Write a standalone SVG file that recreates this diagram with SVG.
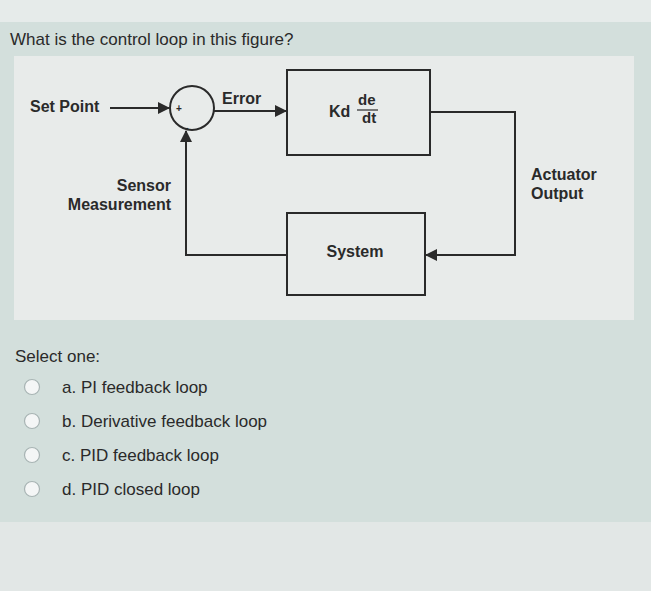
<svg xmlns="http://www.w3.org/2000/svg" width="651" height="591" viewBox="0 0 651 591">
<style>
.t{font-family:"Liberation Sans",Arial,sans-serif;fill:#2a2a2a}
.b{font-weight:bold;font-size:16px}
.ln{fill:none;stroke:#2a2a2a;stroke-width:2}
.opt{font-size:17px}
.r{fill:#f4f6f6;stroke:#a8b4b4;stroke-width:1.2}
</style>
<defs>
<marker id="ah" markerWidth="12" markerHeight="12" refX="11" refY="6" orient="auto" markerUnits="userSpaceOnUse"><path d="M0,0 L12,6 L0,12 z" fill="#2a2a2a"/></marker>
</defs>
<rect width="651" height="591" fill="#c9d7d3"/>
<rect x="0" y="0" width="651" height="22" fill="#e6ebea"/>
<rect x="0" y="22" width="651" height="500" fill="#d3dfdc"/>
<rect x="0" y="522" width="651" height="69" fill="#e2e7e6"/>
<text class="t" x="10" y="45" font-size="17">What is the control loop in this figure?</text>
<rect x="14" y="56" width="620" height="264" fill="#e8ebea"/>
<g id="sum"><circle cx="192" cy="108" r="22" fill="none" stroke="#2a2a2a" stroke-width="2"/>
<text class="t" x="176" y="112" font-size="10" font-weight="bold">+</text>
<text class="t" x="185" y="131" font-size="11" font-weight="bold">-</text></g>
<g id="kd"><rect x="287" y="70" width="143" height="85" fill="none" stroke="#2a2a2a" stroke-width="2"/>
<text class="t b" x="329" y="117">Kd</text>
<text class="t" x="358" y="105" font-size="15" font-weight="bold">de</text>
<line x1="357" y1="110" x2="378" y2="110" stroke="#2a2a2a" stroke-width="1.2"/>
<text class="t" x="362" y="123" font-size="15" font-weight="bold">dt</text></g>
<g id="system"><rect x="287" y="213" width="138" height="82" fill="none" stroke="#2a2a2a" stroke-width="2"/>
<text class="t b" x="355" y="257" text-anchor="middle">System</text></g>
<g id="labels">
<text class="t b" x="30" y="112">Set Point</text>
<text class="t b" x="222" y="104">Error</text>
<text class="t b" x="171" y="191" text-anchor="end">Sensor</text>
<text class="t b" x="171" y="210" text-anchor="end">Measurement</text>
<text class="t b" x="531" y="180">Actuator</text>
<text class="t b" x="531" y="199">Output</text>
</g>
<g id="connectors">
<line class="ln" x1="110" y1="108" x2="169" y2="108" marker-end="url(#ah)"/>
<line class="ln" x1="214" y1="111" x2="286" y2="111" marker-end="url(#ah)"/>
<polyline class="ln" points="430,112 515,112 515,255 426,255" marker-end="url(#ah)"/>
<polyline class="ln" points="287,255 186,255 186,131" marker-end="url(#ah)"/>
</g>
<text class="t" x="15" y="362" font-size="17">Select one:</text>
<g id="options">
<circle class="r" cx="32" cy="387" r="7.5"/><text class="t opt" x="62" y="393">a. PI feedback loop</text>
<circle class="r" cx="32" cy="421" r="7.5"/><text class="t opt" x="62" y="427">b. Derivative feedback loop</text>
<circle class="r" cx="32" cy="455" r="7.5"/><text class="t opt" x="62" y="461">c. PID feedback loop</text>
<circle class="r" cx="32" cy="489" r="7.5"/><text class="t opt" x="62" y="495">d. PID closed loop</text>
</g>
</svg>
